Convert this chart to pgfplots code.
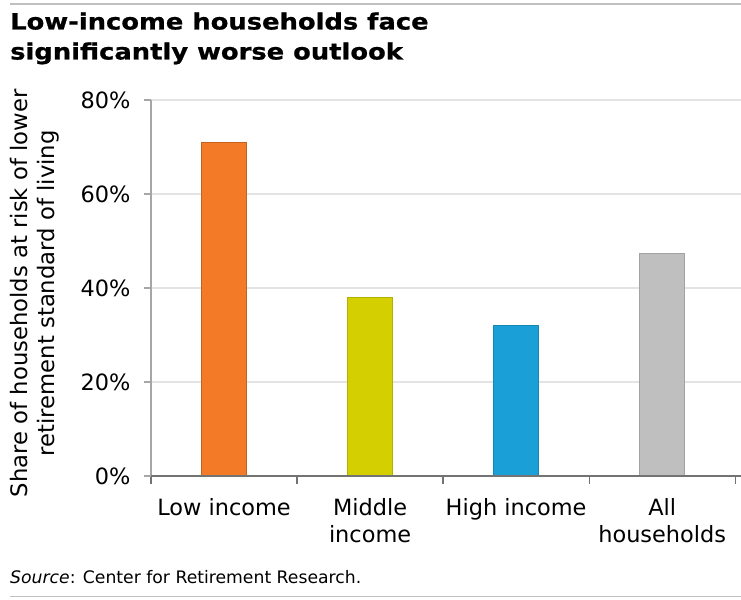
\documentclass[border=0pt]{standalone}
\usepackage{fontspec}
\setmainfont{DejaVu Sans}
\newfontfamily\titlefont[FakeStretch=1.15,BoldFont={DejaVu Sans Bold},BoldFeatures={FakeBold=0.8}]{DejaVu Sans}
\usepackage{pgfplots}
\pgfplotsset{compat=1.18}

\definecolor{lowc}{RGB}{243,123,39}
\definecolor{midc}{RGB}{212,207,0}
\definecolor{highc}{RGB}{26,160,214}
\definecolor{allc}{RGB}{191,191,191}
\definecolor{gridc}{RGB}{227,227,227}
\definecolor{rulec}{RGB}{192,192,192}

\begin{document}
\begin{tikzpicture}[x=1bp,y=1bp]
\useasboundingbox (0,0) rectangle (741,-600);
% rules and title
\draw[rulec, line width=1.8bp] (10,-4) -- (741,-4);
\draw[rulec, line width=1.5bp] (10,-596.5) -- (741,-596.5);
\node[anchor=base west, inner sep=0pt, font=\titlefont\bfseries\fontsize{22.5}{27}\selectfont]
  at (10,-29.5) {Low-income households face};
\node[anchor=base west, inner sep=0pt, font=\titlefont\bfseries\fontsize{22.5}{27}\selectfont]
  at (10,-59.5) {significantly worse outlook};
\node[anchor=base west, inner sep=0pt, font=\fontsize{17.3}{20}\selectfont]
  at (10,-583) {\textit{Source}: Center for Retirement Research.};

\begin{axis}[
    at={(151bp,-476bp)}, anchor=south west,
    scale only axis, width=590bp, height=376bp,
    xmin=-0.5, xmax=3.54, ymin=0, ymax=80,
    axis x line*=bottom, axis y line*=left,
    x axis line style={draw=black!55, line width=1.5bp, -},
    y axis line style={draw=black!35, line width=1.2bp, -},
    xtick={0,1,2,3},
    xticklabels={Low income, Middle\\income, High income, All\\households},
    minor xtick={-0.5,0.5,1.5,2.5,3.5},
    major x tick style={draw=none},
    minor x tick style={draw=black!55, line width=1.2bp},
    minor tick length=8bp,
    ytick={0,20,40,60,80},
    yticklabel={\pgfmathprintnumber{\tick}\%},
    major y tick style={draw=black!35, line width=1.2bp},
    major tick length=7bp,
    tick align=outside,
    ymajorgrids, grid style={draw=gridc, line width=1.5bp},
    /pgf/number format/assume math mode=true,
    tick label style={font=\fontsize{22.5}{27}\selectfont},
    xticklabel style={align=center, anchor=north, yshift=-12bp},
    yticklabel style={xshift=-10bp},
    ylabel={Share of households at risk of lower\\retirement standard of living},
    ylabel style={at={(axis description cs:-0.197,0.486)}, anchor=center,
                  align=center, font=\fontsize{22.8}{27}\selectfont},
    ybar, bar width=45bp, bar shift=0pt,
  ]
\addplot[fill=lowc, draw=lowc!80!black, line width=0.6bp] coordinates {(0,71)};
\addplot[fill=midc, draw=midc!85!black, line width=0.6bp] coordinates {(1,38)};
\addplot[fill=highc, draw=highc!85!black, line width=0.6bp] coordinates {(2,32)};
\addplot[fill=allc, draw=allc!85!black, line width=0.6bp] coordinates {(3,47.3)};
\draw[black!55, line width=1.5bp] (axis cs:-0.5,0) -- (axis cs:3.54,0);
\end{axis}
\end{tikzpicture}
\end{document}
